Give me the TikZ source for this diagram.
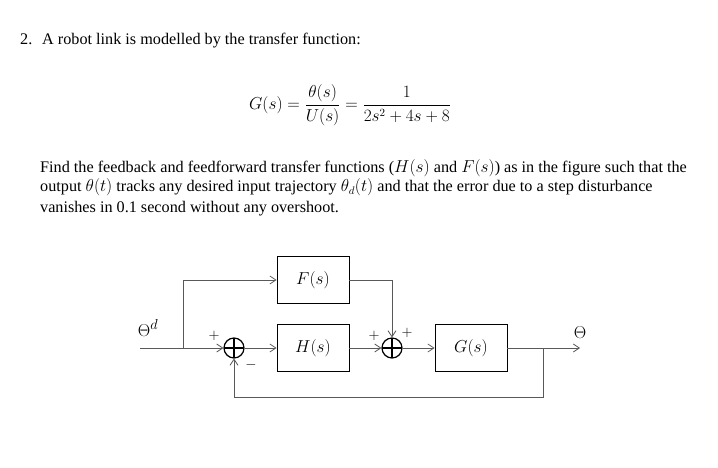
\documentclass[tikz,border=0pt]{standalone}
\usepackage{amsmath}
\usepackage{fontspec}
\setmainfont{Liberation Serif}
\usetikzlibrary{arrows.meta}
\begin{document}
\begin{tikzpicture}[x=1pt,y=-1pt,
  blk/.style={draw,thick,minimum width=72pt,minimum height=47pt,font=\fontsize{19}{22}\selectfont,inner sep=0pt},
  sumc/.style={draw,very thick,circle,minimum size=20pt,inner sep=0pt,path picture={\draw[very thick] (path picture bounding box.north)--(path picture bounding box.south) (path picture bounding box.west)--(path picture bounding box.east);}},
  ln/.style={draw,gray!70!black,thick},
  arr/.style={ln,-{Straight Barb[length=6pt,width=8pt]}},
  txt/.style={anchor=base west,inner sep=0pt,font=\fontsize{16.2}{19}\selectfont},
  sgn/.style={font=\fontsize{15}{17}\selectfont}]
\useasboundingbox (0,0) rectangle (718,468);
\node[txt] (num) at (20,45) {2.};
\node[txt] (l0) at (42,45) {A robot link is modelled by the transfer function:};
\node[font=\fontsize{16}{19}\selectfont] (eq) at (350,105) {$G(s)=\dfrac{\theta(s)}{U(s)}=\dfrac{1}{2s^2+4s+8}$};
\node[txt] (l1) at (40,172) {Find the feedback and feedforward transfer functions ($H(s)$ and $F(s)$) as in the figure such that the};
\node[txt] (l2) at (40,192) {output $\theta(t)$ tracks any desired input trajectory $\theta_d(t)$ and that the error due to a step disturbance};
\node[txt] (l3) at (40,212) {vanishes in 0.1 second without any overshoot.};
% diagram
\node[blk] (F) at (313,280) {$F(s)$};
\node[blk] (H) at (313,348) {$H(s)$};
\node[blk] (G) at (471,348) {$G(s)$};
\node[sumc] (s1) at (234,348) {};
\node[sumc] (s2) at (392,348) {};
\coordinate (in) at (140,348);
\coordinate (b1) at (183,348);
\coordinate (b2) at (543,348);
\coordinate (out) at (580,348);
\node[font=\fontsize{19}{22}\selectfont] (td) at (148,328) {$\Theta^d$};
\node[font=\fontsize{19}{22}\selectfont] (th) at (580,333) {$\Theta$};
\draw[ln] (in)--(b1);
\draw[arr] (b1)--(s1);
\draw[arr] (b1)|-(F);
\draw[arr] (s1)--(H);
\draw[arr] (H)--(s2);
\draw[arr] (F)-|(s2);
\draw[arr] (s2)--(G);
\draw[ln] (G)--(b2);
\draw[arr] (b2)--(out);
\draw[arr] (b2)|-(234,397)--(s1);
\node[sgn] (p1) at (214,336) {$+$};
\node[sgn] (m1) at (251,365) {$-$};
\node[sgn] (p2) at (374,336) {$+$};
\node[sgn] (p3) at (407,333) {$+$};
\end{tikzpicture}
\end{document}
